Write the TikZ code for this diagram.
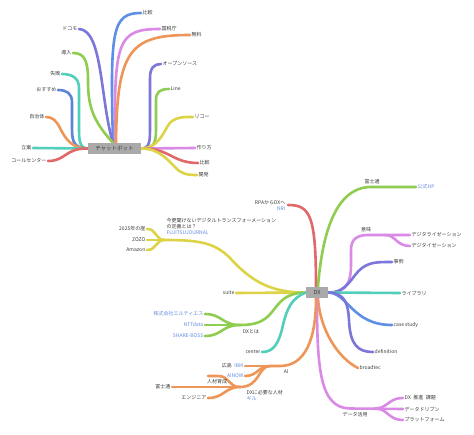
\documentclass[tikz,border=0pt]{standalone}
\usepackage{fontspec}
\setmainfont{Noto Sans CJK JP}
\usetikzlibrary{backgrounds}
\definecolor{cB}{RGB}{95,143,228}
\definecolor{cV}{RGB}{218,138,230}
\definecolor{cO}{RGB}{238,150,88}
\definecolor{cP}{RGB}{124,118,218}
\definecolor{cG}{RGB}{143,205,80}
\definecolor{cT}{RGB}{82,206,186}
\definecolor{cB2}{RGB}{92,132,216}
\definecolor{cR}{RGB}{224,104,104}
\definecolor{cY}{RGB}{220,212,70}
\definecolor{txt}{RGB}{60,60,60}
\definecolor{link}{RGB}{100,140,225}
\definecolor{boxgray}{RGB}{170,170,170}
\tikzset{
  br/.style={line width=2.6pt, line cap=round, line join=round},
  lbl/.style={font=\fontsize{5}{6}\selectfont, text=txt, inner sep=1.5pt},
  lnk/.style={lbl, text=link},
  rootbox/.style={fill=boxgray, text=txt, font=\fontsize{5.5}{6}\selectfont, minimum height=11pt, inner sep=0pt}
}
\begin{document}
\begin{tikzpicture}[x=1pt,y=-1pt]
\useasboundingbox (0,0) rectangle (474,434);

% ---------- roots ----------
\node[rootbox, minimum width=53pt] (cb) at (114.5,148.5) {チャットボット};
\node[rootbox, minimum width=22pt] (dx) at (317,292.5) {DX};

% ---------- chatbot leaves ----------
\coordinate (a1) at (141,13);  \node[lbl,right] (ta1) at (a1) {比較};
\coordinate (a2) at (160,29);  \node[lbl,right] (ta2) at (a2) {国税庁};
\coordinate (a3) at (190,35);  \node[lbl,right] (ta3) at (a3) {無料};
\coordinate (a4) at (79,29);   \node[lbl,left]  (ta4) at (a4) {ドコモ};
\coordinate (a5) at (73,53);   \node[lbl,left]  (ta5) at (a5) {導入};
\coordinate (a6) at (62,74);   \node[lbl,left]  (ta6) at (a6) {失敗};
\coordinate (a7) at (58,90);   \node[lbl,left]  (ta7) at (a7) {おすすめ};
\coordinate (a8) at (46,117);  \node[lbl,left]  (ta8) at (a8) {自治体};
\coordinate (a9) at (33,148);  \node[lbl,left]  (ta9) at (a9) {立案};
\coordinate (a10) at (48,161); \node[lbl,left]  (ta10) at (a10) {コールセンター};
\coordinate (b1) at (161,64);  \node[lbl,right] (tb1) at (b1) {オープンソース};
\coordinate (b2) at (169,89);  \node[lbl,right] (tb2) at (b2) {Line};
\coordinate (b3) at (193,117); \node[lbl,right] (tb3) at (b3) {リコー};
\coordinate (b4) at (195,148); \node[lbl,right] (tb4) at (b4) {作り方};
\coordinate (b5) at (198,163); \node[lbl,right] (tb5) at (b5) {比較};
\coordinate (b6) at (197,175); \node[lbl,right] (tb6) at (b6) {開発};

% ---------- DX nodes ----------
\coordinate (r1) at (288,205);
\node[lbl, anchor=east, align=right] (tr1) at (287,205.5) {RPAからDXへ\\{\color{link}NRI}};
\coordinate (g1) at (370,187); \node[lbl, anchor=south] (tg1) at (372,186) {富士通};
\coordinate (g2) at (416,187); \node[lnk,right] (tg2) at (g2) {公式HP};
\coordinate (v0) at (385,235); \node[lbl, anchor=south] (tv0) at (366,234) {意味};
\coordinate (v1) at (410,235); \node[lbl,right] (tv1) at (v1) {デジタライゼーション};
\coordinate (v2) at (410,246); \node[lbl,right] (tv2) at (v2) {デジタイゼーション};
\coordinate (p1) at (392,262); \node[lbl,right] (tp1) at (p1) {事例};
\coordinate (t1) at (400,293); \node[lbl,right] (tt1) at (t1) {ライブラリ};
\coordinate (c1) at (392,325); \node[lbl,right] (tc1) at (c1) {case study};
\coordinate (d1) at (373,352); \node[lbl,right] (td1) at (d1) {definition};
\coordinate (o1) at (358,368); \node[lbl,right] (to1) at (o1) {broadtec};
\coordinate (u0) at (375,408.5); \node[lbl, anchor=north] (tu0) at (355,411) {データ活用};
\coordinate (u1) at (403,398); \node[lbl,right] (tu1) at (u1) {DX\enspace 推進\enspace 課題};
\coordinate (u2) at (403,409); \node[lbl,right] (tu2) at (u2) {データドリブン};
\coordinate (u3) at (403,420); \node[lbl,right] (tu3) at (u3) {プラットフォーム};
\coordinate (s1) at (236,293); \node[lbl,left] (ts1) at (s1) {suite};
\coordinate (f0) at (165,240);
\node[lbl, anchor=south west, align=left] (tf0) at (165,236.5) {今更聞けないデジタルトランスフォーメーション\\の定義とは？\\{\color{link}FUJITSUJOURNAL}};
\coordinate (f1) at (147,229); \node[lbl,left] (tf1) at (f1) {2025年の崖};
\coordinate (f2) at (147,240); \node[lbl,left] (tf2) at (f2) {ZOZO};
\coordinate (f3) at (147,250); \node[lbl,left] (tf3) at (f3) {Amazon};
\coordinate (h0) at (240,325); \node[lbl, anchor=north] (th0) at (251,327.5) {DXとは};
\coordinate (h1) at (205,314); \node[lnk,left] (th1) at (h1) {株式会社エルティエス};
\coordinate (h2) at (205,325); \node[lnk,left] (th2) at (h2) {NTTdata};
\coordinate (h3) at (205,336); \node[lnk,left] (th3) at (h3) {SHARE-BOSS};
\coordinate (k1) at (262,352); \node[lbl,left] (tk1) at (k1) {center};
\coordinate (i0) at (270,366); \node[lbl, anchor=north] (ti0) at (286,368) {AI};
\coordinate (i1) at (245,366); \node[lbl,left] (ti1) at (i1) {広島\enspace{\color{link}IBM}};
\coordinate (i2) at (245,376); \node[lnk,left] (ti2) at (i2) {AINOW};
\coordinate (j0) at (240,387);
\node[lbl, anchor=north west, align=left] (tj0) at (245,389) {DXに必要な人材\\{\color{link}ギル}};
\coordinate (j1) at (208,376); \node[lbl, anchor=north] (tj1) at (217,378) {人材育成};
\coordinate (j2) at (172,387); \node[lbl,left] (tj2) at (j2) {富士通};
\coordinate (j3) at (208,398); \node[lbl,left] (tj3) at (j3) {エンジニア};

\begin{pgfonlayer}{background}
\fill[white] (0,0) rectangle (474,434);
% ---------- chatbot branches ----------
\draw[br,cB] ([xshift=-1.5pt]cb.north) .. controls (110,30) and (112,13) .. (a1);
\draw[br,cV] ([xshift=0.5pt]cb.north) .. controls (114,40) and (118,29) .. (a2);
\draw[br,cO] ([xshift=1.5pt]cb.north) .. controls (117,50) and (130,35) .. (a3);
\draw[br,cP] ([xshift=-1.5pt]cb.north) .. controls (100,100) and (103,30) .. (a4);
\draw[br,cG] ([xshift=-1.5pt]cb.north) .. controls (92,120) and (88,105) .. (88,80) .. controls (88,60) and (84,53) .. (a5);
\draw[br,cT] (cb.west) .. controls (79,148) and (79,140) .. (79,125) -- (79,88) .. controls (79,78) and (72,74) .. (a6);
\draw[br,cB2] (cb.west) .. controls (72,148) and (72,140) .. (72,125) -- (72,102) .. controls (72,93) and (66,90) .. (a7);
\draw[br,cO] (cb.west) .. controls (72,148) and (66,140) .. (60,128) .. controls (56,120) and (52,117) .. (a8);
\draw[br,cT] (cb.west) -- (a9);
\draw[br,cR] (cb.west) .. controls (65,148) and (66,161) .. (a10);
\draw[br,cP] (cb.east) .. controls (150,148) and (150,142) .. (150,125) -- (150,78) .. controls (150,68) and (154,64) .. (b1);
\draw[br,cG] (cb.east) .. controls (156,148) and (156,142) .. (156,125) -- (156,100) .. controls (156,92) and (160,89) .. (b2);
\draw[br,cY] (cb.east) .. controls (162,148) and (165,125) .. (172,121) .. controls (178,117) and (183,117) .. (b3);
\draw[br,cV] (cb.east) -- (b4);
\draw[br,cR] (cb.east) .. controls (170,148) and (172,163) .. (b5);
\draw[br,cY] (cb.east) .. controls (158,148) and (168,160) .. (175,167) .. controls (181,174) and (187,175) .. (b6);

% ---------- DX branches ----------
\draw[br,cR] ([xshift=-1pt]dx.north) .. controls (316,215) and (310,205) .. (r1);
\draw[br,cG] ([xshift=1pt]dx.north) .. controls (322,235) and (335,188) .. (g1) -- (g2);
\draw[br,cV] (dx.east) .. controls (348,293) and (351,280) .. (351,265) -- (351,250) .. controls (351,240) and (356,235) .. (368,235) -- (v1);
\draw[br,cV] (v0) .. controls (396,235) and (396,246) .. (v2);
\draw[br,cP] (dx.east) .. controls (348,293) and (352,275) .. (362,268) .. controls (370,262) and (378,262) .. (p1);
\draw[br,cT] (dx.east) -- (t1);
\draw[br,cB] (dx.east) .. controls (348,293) and (352,325) .. (c1);
\draw[br,cP] (dx.east) .. controls (346,293) and (348,305) .. (349,320) .. controls (350,345) and (358,352) .. (d1);
\draw[br,cO] ([xshift=1pt]dx.south) .. controls (320,330) and (338,358) .. (o1);
\draw[br,cV] (dx.south) .. controls (317,370) and (320,408) .. (350,408.5) -- (u2);
\draw[br,cV] (u0) .. controls (388,408.5) and (388,398) .. (u1);
\draw[br,cV] (u0) .. controls (388,408.5) and (388,420) .. (u3);
\draw[br,cY] (dx.west) -- (s1);
\draw[br,cY] (dx.west) .. controls (270,293) and (250,280) .. (230,258) .. controls (215,243) and (200,240) .. (f0);
\draw[br,cY] (f0) .. controls (155,240) and (157,229) .. (f1);
\draw[br,cY] (f0) -- (f2);
\draw[br,cY] (f0) .. controls (155,240) and (157,250) .. (f3);
\draw[br,cG] (dx.west) .. controls (285,293) and (280,302) .. (272,312) .. controls (264,322) and (255,325) .. (h0);
\draw[br,cG] (h0) .. controls (222,325) and (222,314) .. (h1);
\draw[br,cG] (h0) -- (h2);
\draw[br,cG] (h0) .. controls (222,325) and (222,336) .. (h3);
\draw[br,cT] (dx.west) .. controls (292,298) and (287,308) .. (283,325) .. controls (279,343) and (274,352) .. (k1);
\draw[br,cO] ([xshift=-1pt]dx.south) .. controls (316,340) and (305,366) .. (280,366) -- (i0);
\draw[br,cO] (i0) -- (i1);
\draw[br,cO] (i0) .. controls (258,366) and (258,376) .. (i2);
\draw[br,cO] (i0) .. controls (258,366) and (260,387) .. (j0);
\draw[br,cO] (j0) .. controls (228,387) and (230,376) .. (218,376) -- (j1);
\draw[br,cO] (j0) -- (j2);
\draw[br,cO] (j0) .. controls (225,387) and (224,398) .. (j3);
\end{pgfonlayer}
\end{tikzpicture}
\end{document}
